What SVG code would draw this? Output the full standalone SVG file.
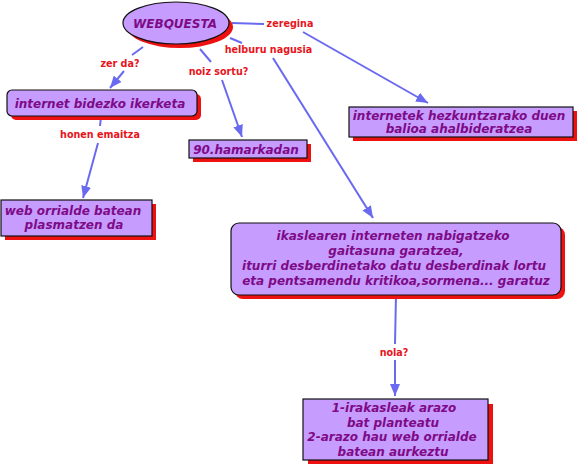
<svg xmlns="http://www.w3.org/2000/svg" width="579" height="466" viewBox="0 0 579 466">
<style>
.sh{fill:#ee1111}
.nd{fill:#c69cff;stroke:#111;stroke-width:1.2}
.nt{font-family:"DejaVu Sans",Verdana,sans-serif;font-weight:bold;font-style:italic;font-size:12px;fill:#7e0a86;text-anchor:middle}
.lb{font-family:"DejaVu Sans",Verdana,sans-serif;font-weight:bold;font-size:9.6px;fill:#e8141c;text-anchor:middle}
.cn{stroke:#6a6af0;stroke-width:2;fill:none}
</style>
<defs>
<marker id="ar" markerUnits="userSpaceOnUse" markerWidth="12" markerHeight="10" refX="12" refY="5" orient="auto">
<path d="M0,0 L12,5 L0,10 z" fill="#6a6af0"/>
</marker>
</defs>
<rect width="579" height="466" fill="#fff"/>
<g id="connectors">
<line class="cn" x1="143" y1="47" x2="132" y2="55"/>
<line class="cn" x1="124" y1="71" x2="110" y2="88" marker-end="url(#ar)"/>
<line class="cn" x1="200" y1="49" x2="211" y2="62"/>
<line class="cn" x1="222" y1="80" x2="242" y2="137" marker-end="url(#ar)"/>
<line class="cn" x1="232" y1="23" x2="264" y2="24"/>
<line class="cn" x1="303" y1="32" x2="428" y2="103" marker-end="url(#ar)"/>
<line class="cn" x1="230" y1="38" x2="242" y2="43"/>
<line class="cn" x1="273" y1="58" x2="373" y2="218" marker-end="url(#ar)"/>
<line class="cn" x1="101" y1="117" x2="100" y2="126"/>
<line class="cn" x1="98" y1="143" x2="83" y2="198" marker-end="url(#ar)"/>
<line class="cn" x1="396" y1="295" x2="395" y2="344"/>
<line class="cn" x1="395" y1="360" x2="395" y2="396" marker-end="url(#ar)"/>
<text class="lb" x="120" y="66.5">zer da?</text>
<text class="lb" x="218.5" y="74.5">noiz sortu?</text>
<text class="lb" x="290" y="26.5">zeregina</text>
<text class="lb" x="268.5" y="52.5">helburu nagusia</text>
<text class="lb" x="100" y="137.5">honen emaitza</text>
<text class="lb" x="394" y="355.5">nola?</text>
</g>
<g id="webquesta">
<ellipse class="sh" cx="180" cy="27" rx="53" ry="21"/>
<ellipse class="nd" cx="176" cy="23" rx="53" ry="21"/>
<text class="nt" x="175" y="27.5">WEBQUESTA</text>
</g>
<g id="ikerketa">
<rect class="sh" x="11" y="94" width="190" height="26" rx="5"/>
<rect class="nd" x="7" y="90" width="190" height="26" rx="5"/>
<text class="nt" x="100" y="107.5">internet bidezko ikerketa</text>
</g>
<g id="hamarkadan">
<rect class="sh" x="193" y="144" width="118" height="18"/>
<rect class="nd" x="189" y="140" width="118" height="18"/>
<text class="nt" x="246" y="153.5">90.hamarkadan</text>
</g>
<g id="hezkuntza">
<rect class="sh" x="353" y="111" width="224" height="30"/>
<rect class="nd" x="349" y="107" width="224" height="30"/>
<text class="nt" x="459" y="119.5">internetek hezkuntzarako duen</text>
<text class="nt" x="459" y="132.5">balioa ahalbideratzea</text>
</g>
<g id="weborrialde">
<rect class="sh" x="5" y="204" width="151" height="36"/>
<rect class="nd" x="1" y="200" width="151" height="36"/>
<text class="nt" x="73" y="214.5">web orrialde batean</text>
<text class="nt" x="74" y="228.5">plasmatzen da</text>
</g>
<g id="helburua">
<rect class="sh" x="235" y="227" width="330" height="72" rx="8"/>
<rect class="nd" x="231" y="223" width="330" height="72" rx="8"/>
<text class="nt" x="393" y="240">ikaslearen interneten nabigatzeko</text>
<text class="nt" x="396" y="255">gaitasuna garatzea,</text>
<text class="nt" x="394" y="270">iturri desberdinetako datu desberdinak lortu</text>
<text class="nt" x="396" y="284.5">eta pentsamendu kritikoa,sormena... garatuz</text>
</g>
<g id="nola">
<rect class="sh" x="308" y="404" width="185" height="60"/>
<rect class="nd" x="303" y="399" width="185" height="61"/>
<text class="nt" x="394" y="412">1-irakasleak arazo</text>
<text class="nt" x="393" y="426.5">bat planteatu</text>
<text class="nt" x="392" y="441">2-arazo hau web orrialde</text>
<text class="nt" x="393" y="456">batean aurkeztu</text>
</g>
</svg>
